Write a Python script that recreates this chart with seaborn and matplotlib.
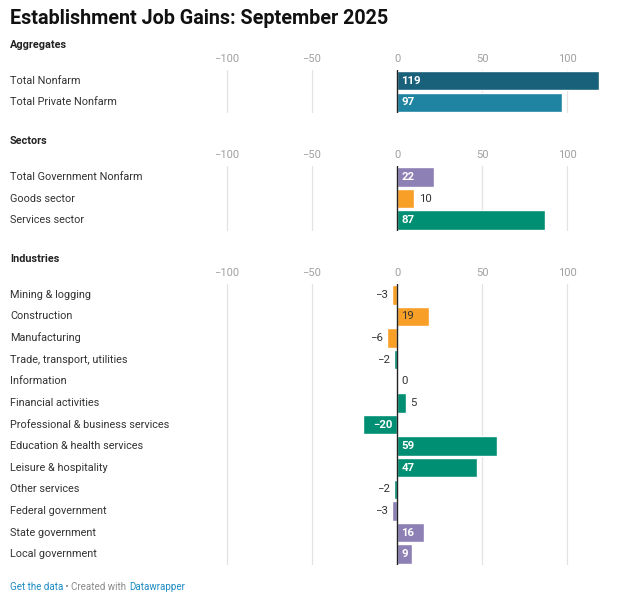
import matplotlib
matplotlib.use("Agg")
import matplotlib.pyplot as plt
import matplotlib.transforms as mtransforms
import seaborn as sns
import pandas as pd

# data
agg_labels = ["Total Nonfarm", "Total Private Nonfarm"]
agg_values = [119, 97]
agg_colors = ["#19607a", "#1e84a2"]

sec_labels = ["Total Government Nonfarm", "Goods sector", "Services sector"]
sec_values = [22, 10, 87]
sec_colors = ["#8c80b5", "#f89f27", "#008f72"]

ind_labels = [
    "Mining & logging", "Construction", "Manufacturing",
    "Trade, transport, utilities", "Information", "Financial activities",
    "Professional & business services", "Education & health services",
    "Leisure & hospitality", "Other services", "Federal government",
    "State government", "Local government",
]
ind_values = [-3, 19, -6, -2, 0, 5, -20, 59, 47, -2, -3, 16, 9]
ind_colors = [
    "#f89f27", "#f89f27", "#f89f27",
    "#008f72", "#008f72", "#008f72", "#008f72", "#008f72", "#008f72", "#008f72",
    "#8c80b5", "#8c80b5", "#8c80b5",
]

ticks = [-100, -50, 0, 50, 100]

W, H = 617, 610
PX = 1.7  # pixels per job unit (thousands)

sns.set_theme(style="white")
plt.rcParams["font.family"] = ["Roboto", "DejaVu Sans"]
plt.rcParams["axes.unicode_minus"] = True

fig = plt.figure(figsize=(W / 100, H / 100), dpi=100)
fig.patch.set_facecolor("white")


def fmt(v):
    return str(v).replace("-", "\u2212")


def draw_panel(top, bottom, header, labels, values, colors):
    left, right = 210, 600
    ax = fig.add_axes([left / W, 1 - bottom / H, (right - left) / W, (bottom - top) / H])
    df = pd.DataFrame({"label": labels, "value": values})
    sns.barplot(data=df, x="value", y="label", hue="label",
                palette=dict(zip(labels, colors)), legend=False,
                orient="h", width=0.9, saturation=1, ax=ax)
    ax.set_xlim(-110, 119.4)
    ax.set_ylim(len(labels) - 0.5, -0.5)
    ax.set_xticks(ticks)
    ax.set_xticklabels([fmt(t) for t in ticks])
    ax.xaxis.tick_top()
    ax.tick_params(axis="x", length=0, pad=4, labelsize=8, labelcolor="#a0a0a0")
    ax.set_yticks([])
    ax.set_xlabel("")
    ax.set_ylabel("")
    for s in ax.spines.values():
        s.set_visible(False)
    for t in [-100, -50, 50, 100]:
        ax.axvline(t, color="#e3e3e3", lw=0.9, zorder=0)
    ax.axvline(0, color="#222222", lw=1.0, zorder=3)

    # row labels at the left edge of the figure
    trans = mtransforms.blended_transform_factory(fig.transFigure, ax.transData)
    for i, lab in enumerate(labels):
        ax.text(10 / W, i, lab, transform=trans, ha="left", va="center",
                fontsize=7.8, color="#333333")

    # value labels
    for i, (v, c) in enumerate(zip(values, colors)):
        txt = fmt(v)
        inside = abs(v) * PX > len(txt) * 7 + 6
        if inside:
            col = "#333333" if c == "#f89f27" else "white"
            wt = "normal" if c == "#f89f27" else "bold"
            if v > 0:
                ax.text(2.5, i, txt, ha="left", va="center", fontsize=8.2,
                        color=col, fontweight=wt, zorder=4)
            else:
                ax.text(-2.5, i, txt, ha="right", va="center", fontsize=8.2,
                        color=col, fontweight=wt, zorder=4)
        else:
            if v >= 0:
                ax.text(v + 2.8, i, txt, ha="left", va="center", fontsize=8.2,
                        color="#333333", zorder=4)
            else:
                ax.text(v - 2.2, i, txt, ha="right", va="center", fontsize=8.2,
                        color="#333333", zorder=4)

    fig.text(10 / W, 1 - (top - 25) / H, header, ha="left", va="center",
             fontsize=7.8, fontweight="bold", color="#222222")
    return ax


draw_panel(70, 113, "Aggregates", agg_labels, agg_values, agg_colors)
draw_panel(166, 231, "Sectors", sec_labels, sec_values, sec_colors)
draw_panel(284, 565, "Industries", ind_labels, ind_values, ind_colors)

fig.text(10 / W, 1 - 18 / H, "Establishment Job Gains: September 2025",
         ha="left", va="center", fontsize=14.2, fontweight="bold", color="#111111")

# footer
t1 = fig.text(10 / W, 1 - 587 / H, "Get the data", ha="left", va="center",
              fontsize=7, color="#1b8ac2")
fig.canvas.draw()
r = fig.canvas.get_renderer()
x = t1.get_window_extent(r).x1
t2 = fig.text(x / W, 1 - 587 / H, " \u2022 Created with ", ha="left", va="center",
              fontsize=7, color="#8a8a8a")
x = t2.get_window_extent(r).x1
fig.text(x / W, 1 - 587 / H, "Datawrapper", ha="left", va="center",
         fontsize=7, color="#1b8ac2")

fig.savefig("out.png", dpi=100, facecolor="white")
